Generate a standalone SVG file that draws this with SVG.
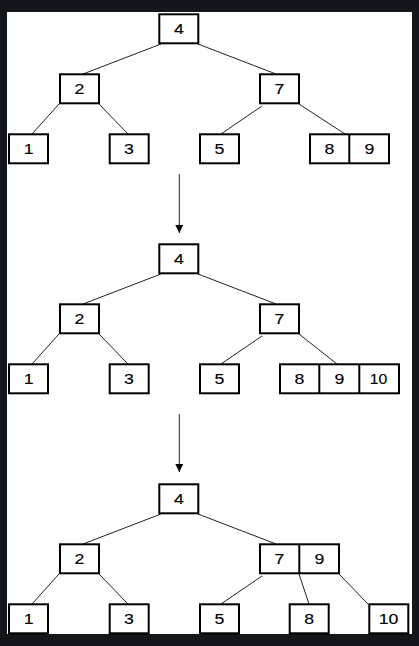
<svg xmlns="http://www.w3.org/2000/svg" width="419" height="646" viewBox="0 0 419 646">
<style>
.b{fill:#fff;stroke:#000;stroke-width:2}
.d{stroke:#000;stroke-width:2}
.c line{stroke:#222;stroke-width:1}
.a{stroke:#000;stroke-width:1.2}
text{font-family:"Liberation Sans",Arial,sans-serif;font-size:15px;fill:#000;stroke:#000;stroke-width:0.15;text-anchor:middle}
</style>
<defs>
<marker id="ah" markerUnits="userSpaceOnUse" markerWidth="10" markerHeight="10" refX="8" refY="4" orient="auto">
<path d="M0,0 L8,4 L0,8 Z" fill="#000"/>
</marker>
</defs>
<rect x="0" y="0" width="419" height="646" fill="#13161b"/>
<rect x="7" y="12" width="405" height="622" fill="#fff"/>

<g class="c" id="connectors">
<line x1="161" y1="44" x2="83" y2="74"/>
<line x1="198" y1="44" x2="276" y2="74"/>
<line x1="59" y1="104" x2="32" y2="134"/>
<line x1="99" y1="104" x2="128" y2="134"/>
<line x1="262" y1="106" x2="221" y2="134"/>
<line x1="299" y1="104" x2="345" y2="134"/>

<line x1="161" y1="274" x2="83" y2="304"/>
<line x1="198" y1="274" x2="276" y2="304"/>
<line x1="59" y1="334" x2="32" y2="364"/>
<line x1="99" y1="334" x2="128" y2="364"/>
<line x1="262" y1="336" x2="221" y2="364"/>
<line x1="299" y1="334" x2="337" y2="364"/>

<line x1="161" y1="514" x2="83" y2="544"/>
<line x1="198" y1="514" x2="276" y2="544"/>
<line x1="59" y1="574" x2="32" y2="604"/>
<line x1="99" y1="574" x2="128" y2="604"/>
<line x1="262" y1="576" x2="221" y2="604"/>
<line x1="299" y1="574" x2="309" y2="604"/>
<line x1="339" y1="574" x2="368" y2="604"/>

<line class="a" x1="179.3" y1="174" x2="179.3" y2="233" marker-end="url(#ah)"/>
<line class="a" x1="179.3" y1="414" x2="179.3" y2="472" marker-end="url(#ah)"/>
</g>

<!-- Tree 1 -->
<g id="t1-n4"><rect class="b" x="159.3" y="14.3" width="39" height="29"/><text transform="translate(179,34) scale(1.18,1)">4</text></g>
<g id="t1-n2"><rect class="b" x="60" y="74.3" width="39" height="29"/><text transform="translate(79.5,94) scale(1.18,1)">2</text></g>
<g id="t1-n7"><rect class="b" x="260" y="74.3" width="39" height="29"/><text transform="translate(279.5,94) scale(1.18,1)">7</text></g>
<g id="t1-n1"><rect class="b" x="9" y="134.3" width="39" height="29"/><text transform="translate(28.7,154) scale(1.18,1)">1</text></g>
<g id="t1-n3"><rect class="b" x="109.7" y="134.3" width="39" height="29"/><text transform="translate(129,154) scale(1.18,1)">3</text></g>
<g id="t1-n5"><rect class="b" x="200" y="134.3" width="39" height="29"/><text transform="translate(219.5,154) scale(1.18,1)">5</text></g>
<g id="t1-n89"><rect class="b" x="310" y="134.3" width="79" height="29"/><line class="d" x1="349.3" y1="134.3" x2="349.3" y2="163.3"/><text transform="translate(329.5,154) scale(1.18,1)">8</text><text transform="translate(369.5,154) scale(1.18,1)">9</text></g>

<!-- Tree 2 -->
<g id="t2-n4"><rect class="b" x="159.3" y="244.3" width="39" height="29"/><text transform="translate(179,264) scale(1.18,1)">4</text></g>
<g id="t2-n2"><rect class="b" x="60" y="304.3" width="39" height="29"/><text transform="translate(79.5,324) scale(1.18,1)">2</text></g>
<g id="t2-n7"><rect class="b" x="260" y="304.3" width="39" height="29"/><text transform="translate(279.5,324) scale(1.18,1)">7</text></g>
<g id="t2-n1"><rect class="b" x="9" y="364.3" width="39" height="29"/><text transform="translate(28.7,384) scale(1.18,1)">1</text></g>
<g id="t2-n3"><rect class="b" x="109.7" y="364.3" width="39" height="29"/><text transform="translate(129,384) scale(1.18,1)">3</text></g>
<g id="t2-n5"><rect class="b" x="200" y="364.3" width="39" height="29"/><text transform="translate(219.5,384) scale(1.18,1)">5</text></g>
<g id="t2-n8910"><rect class="b" x="280" y="364.3" width="119" height="29"/><line class="d" x1="319.3" y1="364.3" x2="319.3" y2="393.3"/><line class="d" x1="359.3" y1="364.3" x2="359.3" y2="393.3"/><text transform="translate(299.5,384) scale(1.18,1)">8</text><text transform="translate(339.5,384) scale(1.18,1)">9</text><text transform="translate(378.5,384) scale(1.05,1)">10</text></g>

<!-- Tree 3 -->
<g id="t3-n4"><rect class="b" x="159.3" y="484.3" width="39" height="29"/><text transform="translate(179,504) scale(1.18,1)">4</text></g>
<g id="t3-n2"><rect class="b" x="60" y="544.3" width="39" height="29"/><text transform="translate(79.5,564) scale(1.18,1)">2</text></g>
<g id="t3-n79"><rect class="b" x="260" y="544.3" width="79" height="29"/><line class="d" x1="299.3" y1="544.3" x2="299.3" y2="573.3"/><text transform="translate(279.5,564) scale(1.18,1)">7</text><text transform="translate(319.5,564) scale(1.18,1)">9</text></g>
<g id="t3-n1"><rect class="b" x="9" y="604.3" width="39" height="29"/><text transform="translate(28.7,624) scale(1.18,1)">1</text></g>
<g id="t3-n3"><rect class="b" x="109.7" y="604.3" width="39" height="29"/><text transform="translate(129,624) scale(1.18,1)">3</text></g>
<g id="t3-n5"><rect class="b" x="200" y="604.3" width="39" height="29"/><text transform="translate(219.5,624) scale(1.18,1)">5</text></g>
<g id="t3-n8"><rect class="b" x="289.7" y="604.3" width="39" height="29"/><text transform="translate(309.2,624) scale(1.18,1)">8</text></g>
<g id="t3-n10"><rect class="b" x="369.3" y="604.3" width="39" height="29"/><text transform="translate(388.5,624) scale(1.18,1)">10</text></g>
</svg>
